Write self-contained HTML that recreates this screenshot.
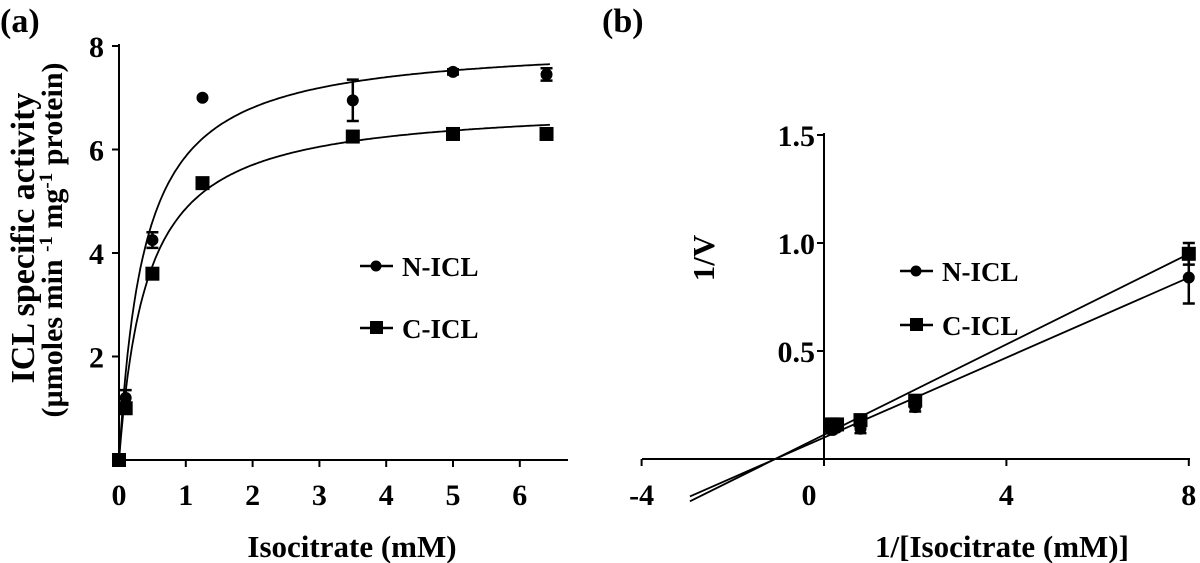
<!DOCTYPE html>
<html><head><meta charset="utf-8"><style>
html,body{margin:0;padding:0;background:#fff;}
svg{display:block;font-family:"Liberation Serif",serif;font-weight:bold;}
</style></head><body>
<svg id="chart" width="1200" height="563" viewBox="0 0 1200 563" xmlns="http://www.w3.org/2000/svg">
<text x="0" y="32" font-size="34">(a)</text>
<text x="602" y="32" font-size="34">(b)</text>
<g id="ga"></g>
<g id="gb"></g>
</svg>
<script>
// Panel A data
const aX = [0, 0.1, 0.5, 1.25, 3.5, 5, 6.4];
const aN = [0, 1.2, 4.25, 7.0, 6.95, 7.5, 7.45];
const aNerr = [0, 0.15, 0.15, 0, 0.4, 0.05, 0.12];
const aC = [0, 1.0, 3.6, 5.35, 6.25, 6.3, 6.3];
const aCerr = [0, 0.1, 0.05, 0.1, 0.1, 0.05, 0.05];
const aFitN = [8.1, 0.38]; // Vmax, Km
const aFitC = [6.9, 0.42];
const aXTicks = [0,1,2,3,4,5,6];
const aYTicks = [2,4,6,8];
// Panel B data
const bX = [0.156, 0.2, 0.286, 0.8, 2, 8];
const bN = [0.135, 0.135, 0.145, 0.14, 0.24, 0.84];
const bNerr = [0.01, 0.01, 0.01, 0.02, 0.02, 0.12];
const bC = [0.16, 0.16, 0.16, 0.18, 0.27, 0.95];
const bCerr = [0.01, 0.01, 0.01, 0.01, 0.02, 0.05];
const bFitN = [0.0926, 0.099]; // slope, intercept
const bFitC = [0.1047, 0.112];
const bFitRange = [-2.94, 8];
const bXTicks = [-4,0,4,8];
const bYTicks = [0.5,1.0,1.5];

const NS='http://www.w3.org/2000/svg';
function mk(p,t,a){const e=document.createElementNS(NS,t);for(const k in a)e.setAttribute(k,a[k]);p.appendChild(e);return e;}

const ax = v => 119 + v*66.8;
const ay = v => 460 - v*51.75;
const ga=document.getElementById('ga');
let e;
e=mk(ga,'line',{x1:119,y1:44,x2:119,y2:462,stroke:'#000','stroke-width':2});

e=mk(ga,'line',{x1:117,y1:460,x2:568,y2:460,stroke:'#000','stroke-width':2});

aXTicks.forEach(t=>{
  e=mk(ga,'line',{x1:ax(t),y1:460,x2:ax(t),y2:467,stroke:'#000','stroke-width':2});
  
  e=mk(ga,'text',{x:ax(t),y:505,'font-size':30,'text-anchor':'middle'});e.textContent=t;
  
});
aYTicks.forEach(t=>{
  e=mk(ga,'line',{x1:112,y1:ay(t),x2:119,y2:ay(t),stroke:'#000','stroke-width':2});
  
  e=mk(ga,'text',{x:104,y:ay(t)+11,'font-size':30,'text-anchor':'end'});e.textContent=t;
  
});
e=mk(ga,'text',{x:352,y:557,'font-size':31,'text-anchor':'middle'});e.textContent='Isocitrate (mM)';

e=mk(ga,'text',{x:0,y:0,'font-size':34,'text-anchor':'middle',transform:'translate(34,238) rotate(-90)'});e.textContent='ICL specific  activity';

e=mk(ga,'text',{x:0,y:0,'font-size':30,'text-anchor':'middle',transform:'translate(62,240) rotate(-90)'});
e.innerHTML='(µmoles min <tspan dy="-10" font-size="19">-1</tspan><tspan dy="10"> mg</tspan><tspan dy="-10" font-size="19">-1</tspan><tspan dy="10"> protein)</tspan>';


function mmPath(f){let d='';for(let i=0;i<=200;i++){const x=6.45*i/200;const y=f[0]*x/(f[1]+x);d+=(i?'L':'M')+ax(x).toFixed(1)+','+ay(y).toFixed(1);}return d;}
e=mk(ga,'path',{d:mmPath(aFitN),fill:'none',stroke:'#000','stroke-width':1.8});

e=mk(ga,'path',{d:mmPath(aFitC),fill:'none',stroke:'#000','stroke-width':1.8});


function errbar(g,x,y0,y1,name){
  if(Math.abs(y1-y0)<3)return;
  e=mk(g,'path',{d:`M${x},${y0}L${x},${y1}M${x-6},${y0}L${x+6},${y0}M${x-6},${y1}L${x+6},${y1}`,stroke:'#000','stroke-width':2.5,fill:'none'});
  
}
aX.forEach((x,i)=>{
  errbar(ga,ax(x),ay(aN[i]-aNerr[i]),ay(aN[i]+aNerr[i]),'a-n-icl-error');
  e=mk(ga,'circle',{cx:ax(x),cy:ay(aN[i]),r:6,fill:'#000'});
  
  errbar(ga,ax(x),ay(aC[i]-aCerr[i]),ay(aC[i]+aCerr[i]),'a-c-icl-error');
  e=mk(ga,'rect',{x:ax(x)-7,y:ay(aC[i])-7,width:14,height:14,fill:'#000'});
  
});

function legend(g,x,y,kind,label,name){
  e=mk(g,'line',{x1:x,y1:y,x2:x+33,y2:y,stroke:'#000','stroke-width':2.5});
  
  if(kind==='c'){e=mk(g,'circle',{cx:x+16,cy:y,r:5.5,fill:'#000'});}
  else{e=mk(g,'rect',{x:x+10,y:y-7,width:13,height:13,fill:'#000'});}
  
  e=mk(g,'text',{x:x+42,y:y+10,'font-size':27});e.textContent=label;
  
}
legend(ga,360,266,'c','N-ICL','a-legend-n-icl');
legend(ga,360,328,'s','C-ICL','a-legend-c-icl');

const bx = v => 824 + v*45.6;
const by = v => 459 - v*216;
const gb=document.getElementById('gb');
e=mk(gb,'line',{x1:824,y1:133,x2:824,y2:461,stroke:'#000','stroke-width':2});

e=mk(gb,'line',{x1:642,y1:459,x2:1190,y2:459,stroke:'#000','stroke-width':2});

bXTicks.forEach(t=>{
  e=mk(gb,'line',{x1:bx(t),y1:459,x2:bx(t),y2:466,stroke:'#000','stroke-width':2});
  
  e=mk(gb,'text',{x:bx(t)+(t===0?-15:0),y:505,'font-size':30,'text-anchor':'middle'});e.textContent=t;
  
});
bYTicks.forEach(t=>{
  e=mk(gb,'line',{x1:817,y1:by(t),x2:824,y2:by(t),stroke:'#000','stroke-width':2});
  
  e=mk(gb,'text',{x:815,y:by(t)+11,'font-size':30,'text-anchor':'end'});e.textContent=t.toFixed(1);
  
});
e=mk(gb,'text',{x:1002,y:557,'font-size':31,'text-anchor':'middle'});e.textContent='1/[Isocitrate (mM)]';

e=mk(gb,'text',{x:0,y:0,'font-size':31,'text-anchor':'middle',transform:'translate(714,258) rotate(-90)'});e.textContent='1/V';


function linPath(f){const a=bFitRange[0],b=bFitRange[1];return `M${bx(a)},${by(f[0]*a+f[1])}L${bx(b)},${by(f[0]*b+f[1])}`;}
e=mk(gb,'path',{d:linPath(bFitN),stroke:'#000','stroke-width':1.8,fill:'none'});

e=mk(gb,'path',{d:linPath(bFitC),stroke:'#000','stroke-width':1.8,fill:'none'});

bX.forEach((x,i)=>{
  errbar(gb,bx(x),by(bN[i]-bNerr[i]),by(bN[i]+bNerr[i]),'b-n-icl-error');
  e=mk(gb,'circle',{cx:bx(x),cy:by(bN[i]),r:6,fill:'#000'});
  
  errbar(gb,bx(x),by(bC[i]-bCerr[i]),by(bC[i]+bCerr[i]),'b-c-icl-error');
  e=mk(gb,'rect',{x:bx(x)-7,y:by(bC[i])-7,width:14,height:14,fill:'#000'});
  
});
legend(gb,900,271,'c','N-ICL','b-legend-n-icl');
legend(gb,900,325,'s','C-ICL','b-legend-c-icl');
</script>
</body></html>
